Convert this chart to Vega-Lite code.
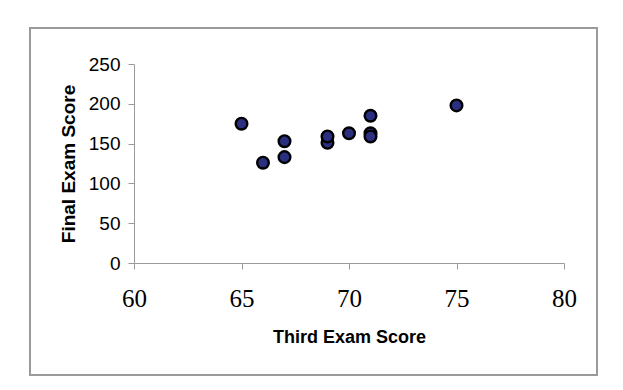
{
  "$schema": "https://vega.github.io/schema/vega-lite/v6.json",
  "autosize": {"type": "none"},
  "padding": {"left": 30, "top": 28, "right": 26, "bottom": 15},
  "width": 567,
  "height": 347,
  "background": "white",
  "config": {
    "view": {"stroke": "#9a9a9a", "strokeWidth": 2},
    "axis": {"grid": false, "domainColor": "#9a9a9a", "tickColor": "#9a9a9a", "labelColor": "#000", "titleColor": "#000"},
    "axisX": {"labelFont": "Liberation Serif", "labelFontSize": 25}
  },
  "data": {
    "values": [
      {"third": 65, "final": 175},
      {"third": 67, "final": 133},
      {"third": 71, "final": 185},
      {"third": 71, "final": 163},
      {"third": 66, "final": 126},
      {"third": 75, "final": 198},
      {"third": 67, "final": 153},
      {"third": 70, "final": 163},
      {"third": 71, "final": 159},
      {"third": 69, "final": 151},
      {"third": 69, "final": 159}
    ]
  },
  "mark": {"type": "point", "filled": true, "fill": "#2b2f80", "stroke": "#000", "strokeWidth": 2.4, "size": 135, "opacity": 1},
  "encoding": {
    "x": {
      "field": "third", "type": "quantitative",
      "scale": {"domain": [60, 80], "range": [104, 534], "nice": false, "zero": false},
      "axis": {"title": "Third Exam Score", "values": [60, 65, 70, 75, 80], "offset": -112, "tickSize": 6,
        "labelPadding": 17, "labelFlush": false,
        "titleFont": "Liberation Sans", "titleFontSize": 18, "titleFontWeight": "bold", "titlePadding": 17}
    },
    "y": {
      "field": "final", "type": "quantitative",
      "scale": {"domain": [0, 250], "range": [235, 36], "nice": false},
      "axis": {"title": "Final Exam Score", "values": [0, 50, 100, 150, 200, 250], "offset": -104, "tickSize": 6,
        "labelFont": "Liberation Sans", "labelFontSize": 19, "labelPadding": 8, "labelFlush": false,
        "titleFont": "Liberation Sans", "titleFontSize": 19, "titleFontWeight": "bold", "titlePadding": 10}
    }
  }
}
